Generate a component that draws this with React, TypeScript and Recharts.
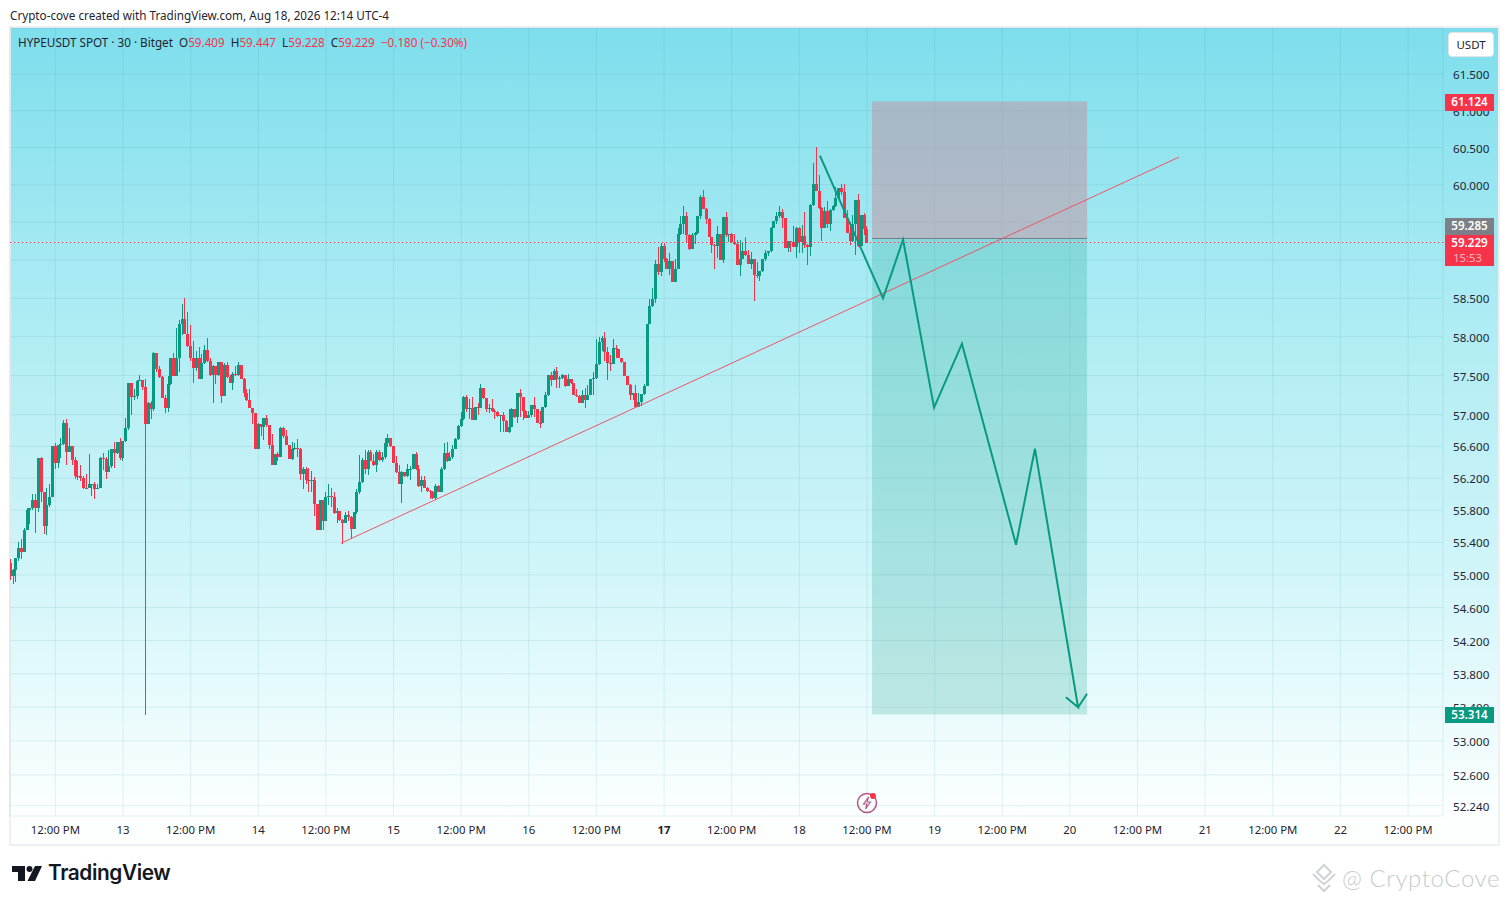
import { ComposedChart, Bar, Line, XAxis, YAxis, CartesianGrid, ReferenceArea, ReferenceLine } from 'recharts'

const UP = '#089981'
const DOWN = '#f7334a'
const FONT = '"Noto Sans", sans-serif'

const firstOpen = 55.15

const closes = [
  54.98, 55.06, 55.21, 55.33, 55.28, 55.55, 55.80, 55.82, 55.92, 55.82,
  56.45, 56.02, 55.60, 55.86, 55.96, 56.60, 56.39, 56.61, 56.63, 56.89,
  56.53, 56.60, 56.43, 56.23, 56.22, 56.20, 56.08, 56.07, 56.12, 56.13,
  56.06, 56.08, 56.45, 56.44, 56.27, 56.35, 56.57, 56.52, 56.65, 56.45,
  56.67, 56.83, 57.40, 57.23, 57.24, 57.43, 57.44, 57.35, 56.88, 57.15,
  57.07, 57.79, 57.59, 57.48, 57.21, 57.08, 57.39, 57.72, 57.49, 57.72,
  58.16, 58.23, 58.03, 57.88, 57.72, 57.60, 57.72, 57.46, 57.66, 57.83,
  57.69, 57.51, 57.62, 57.51, 57.67, 57.24, 57.63, 57.48, 57.40, 57.52,
  57.51, 57.64, 57.45, 57.28, 57.19, 57.09, 57.02, 56.57, 56.88, 56.85,
  56.96, 56.87, 56.62, 56.37, 56.50, 56.47, 56.83, 56.73, 56.61, 56.44,
  56.57, 56.58, 56.57, 56.25, 56.32, 56.18, 56.16, 56.18, 55.88, 55.55,
  55.93, 55.67, 55.96, 55.97, 55.96, 55.77, 55.79, 55.68, 55.64, 55.74,
  55.72, 55.56, 55.78, 56.02, 56.15, 56.43, 56.32, 56.53, 56.42, 56.36,
  56.53, 56.43, 56.46, 56.64, 56.71, 56.60, 56.39, 56.28, 56.12, 56.28,
  56.22, 56.31, 56.32, 56.50, 56.31, 56.10, 56.18, 56.08, 56.04, 56.03,
  55.95, 56.10, 56.02, 56.32, 56.52, 56.42, 56.47, 56.57, 56.69, 56.86,
  56.94, 57.22, 57.07, 57.08, 56.93, 57.10, 57.09, 57.34, 57.21, 57.07,
  57.09, 57.05, 57.03, 56.98, 56.99, 56.92, 56.78, 56.84, 57.07, 56.97,
  57.28, 57.22, 57.05, 56.96, 56.99, 57.12, 57.07, 56.90, 56.89, 57.10,
  57.25, 57.51, 57.44, 57.56, 57.45, 57.47, 57.51, 57.36, 57.46, 57.41,
  57.25, 57.24, 57.15, 57.25, 57.19, 57.25, 57.46, 57.47, 57.65, 57.93,
  57.98, 57.80, 57.66, 57.65, 57.85, 57.84, 57.72, 57.67, 57.50, 57.38,
  57.25, 57.28, 57.10, 57.16, 57.26, 57.37, 58.17, 58.40, 58.49, 58.95,
  58.84, 59.19, 59.02, 58.88, 58.99, 58.71, 58.88, 59.34, 59.48, 59.58,
  59.33, 59.14, 59.33, 59.36, 59.58, 59.84, 59.67, 59.54, 59.30, 59.20,
  59.19, 59.34, 59.00, 59.57, 59.33, 59.34, 59.24, 59.21, 58.94, 59.02,
  59.12, 59.07, 58.95, 59.01, 58.80, 58.79, 58.85, 59.01, 59.09, 59.12,
  59.43, 59.51, 59.58, 59.64, 59.55, 59.16, 59.25, 59.24, 59.17, 59.43,
  59.24, 59.32, 59.20, 59.17, 59.73, 60.01, 59.91, 59.69, 59.42, 59.65,
  59.47, 59.66, 59.71, 59.82, 59.95, 59.90, 59.55, 59.36, 59.25, 59.48,
  59.79, 59.18, 59.59, 59.41, 59.23,
]

const highs = [
  55.20, 55.07, 55.21, 55.40, 55.44, 55.58, 55.82, 55.82, 56.00, 56.00,
  56.45, 56.47, 56.03, 56.07, 56.13, 56.60, 56.64, 56.62, 56.70, 56.93,
  56.94, 56.83, 56.60, 56.47, 56.42, 56.36, 56.23, 56.25, 56.50, 56.13,
  56.15, 56.13, 56.47, 56.52, 56.46, 56.55, 56.57, 56.66, 56.66, 56.70,
  56.67, 56.96, 57.41, 57.40, 57.33, 57.44, 57.51, 57.44, 57.46, 57.16,
  57.17, 57.80, 57.79, 57.62, 57.50, 57.25, 57.49, 57.72, 57.79, 58.11,
  58.22, 58.43, 58.50, 58.32, 58.15, 57.95, 57.81, 57.87, 57.78, 57.89,
  57.98, 57.72, 57.63, 57.62, 57.67, 57.67, 57.66, 57.67, 57.51, 57.54,
  57.62, 57.67, 57.64, 57.47, 57.33, 57.33, 57.09, 57.02, 56.90, 56.88,
  56.96, 56.99, 56.87, 56.75, 56.50, 56.53, 56.84, 56.84, 56.80, 56.62,
  56.66, 56.64, 56.69, 56.58, 56.34, 56.34, 56.33, 56.29, 56.21, 55.88,
  55.93, 55.93, 56.02, 56.13, 56.08, 56.02, 55.83, 55.79, 55.69, 55.78,
  55.79, 55.73, 55.78, 56.06, 56.49, 56.45, 56.55, 56.55, 56.55, 56.50,
  56.55, 56.55, 56.53, 56.70, 56.75, 56.71, 56.60, 56.48, 56.36, 56.29,
  56.28, 56.38, 56.35, 56.50, 56.53, 56.37, 56.22, 56.23, 56.09, 56.05,
  56.04, 56.12, 56.11, 56.34, 56.64, 56.65, 56.53, 56.61, 56.71, 56.87,
  57.04, 57.24, 57.25, 57.20, 57.22, 57.10, 57.15, 57.39, 57.34, 57.21,
  57.13, 57.20, 57.07, 57.05, 56.99, 57.03, 56.93, 57.07, 57.09, 57.07,
  57.28, 57.33, 57.23, 57.06, 57.05, 57.12, 57.23, 57.07, 57.05, 57.10,
  57.29, 57.51, 57.54, 57.58, 57.61, 57.50, 57.52, 57.51, 57.52, 57.46,
  57.41, 57.33, 57.25, 57.31, 57.34, 57.38, 57.46, 57.55, 57.97, 58.00,
  58.01, 58.06, 57.87, 57.76, 57.97, 57.89, 57.84, 57.72, 57.68, 57.50,
  57.39, 57.28, 57.38, 57.28, 57.26, 57.39, 58.17, 58.49, 58.63, 59.00,
  59.17, 59.22, 59.22, 59.03, 59.09, 58.99, 59.02, 59.43, 59.58, 59.72,
  59.63, 59.34, 59.36, 59.37, 59.58, 59.86, 59.93, 59.69, 59.55, 59.31,
  59.21, 59.45, 59.34, 59.57, 59.64, 59.35, 59.36, 59.35, 59.26, 59.26,
  59.23, 59.31, 59.13, 59.10, 59.02, 58.97, 58.85, 59.01, 59.13, 59.12,
  59.44, 59.51, 59.64, 59.71, 59.67, 59.56, 59.25, 59.25, 59.45, 59.44,
  59.44, 59.46, 59.63, 59.21, 59.74, 60.29, 60.50, 60.13, 59.70, 59.70,
  59.78, 59.68, 59.73, 59.97, 59.96, 60.01, 60.01, 59.66, 59.50, 59.59,
  59.79, 59.87, 59.60, 59.62, 59.45,
]

const lows = [
  54.94, 54.89, 54.91, 55.17, 55.20, 55.28, 55.55, 55.63, 55.80, 55.52,
  55.78, 55.90, 55.50, 55.49, 55.84, 55.96, 56.31, 56.33, 56.45, 56.61,
  56.36, 56.53, 56.36, 56.19, 56.17, 56.16, 56.06, 56.06, 56.07, 55.97,
  55.94, 56.06, 56.07, 56.30, 56.19, 56.27, 56.33, 56.33, 56.50, 56.43,
  56.42, 56.66, 56.81, 56.99, 57.19, 57.20, 57.43, 57.31, 53.31, 56.88,
  56.94, 57.05, 57.54, 57.47, 57.21, 57.02, 57.04, 57.38, 57.49, 57.49,
  57.54, 58.02, 58.03, 57.87, 57.69, 57.41, 57.56, 57.45, 57.46, 57.65,
  57.67, 57.50, 57.15, 57.39, 57.49, 57.15, 57.24, 57.47, 57.40, 57.32,
  57.50, 57.50, 57.45, 57.22, 57.18, 57.08, 56.88, 56.57, 56.57, 56.73,
  56.68, 56.85, 56.57, 56.37, 56.37, 56.41, 56.47, 56.71, 56.61, 56.44,
  56.43, 56.55, 56.47, 56.17, 56.06, 56.13, 56.03, 56.03, 55.73, 55.55,
  55.55, 55.55, 55.67, 55.86, 55.84, 55.75, 55.64, 55.67, 55.38, 55.64,
  55.67, 55.44, 55.56, 55.75, 56.00, 56.14, 56.25, 56.24, 56.42, 56.35,
  56.28, 56.41, 56.40, 56.44, 56.59, 56.59, 56.39, 56.26, 56.12, 55.89,
  56.21, 56.21, 56.17, 56.31, 56.30, 56.09, 56.02, 56.07, 56.03, 55.94,
  55.94, 55.93, 56.02, 56.02, 56.30, 56.40, 56.42, 56.44, 56.56, 56.68,
  56.84, 56.93, 57.03, 56.94, 56.93, 56.93, 57.00, 57.08, 57.20, 57.03,
  57.02, 57.03, 56.95, 56.97, 56.78, 56.78, 56.78, 56.77, 56.84, 56.96,
  56.90, 56.97, 56.93, 56.96, 56.96, 56.97, 56.97, 56.90, 56.83, 56.89,
  57.09, 57.24, 57.37, 57.44, 57.34, 57.34, 57.46, 57.35, 57.36, 57.39,
  57.25, 57.23, 57.15, 57.15, 57.09, 57.19, 57.25, 57.25, 57.46, 57.64,
  57.81, 57.69, 57.44, 57.56, 57.65, 57.72, 57.72, 57.66, 57.49, 57.38,
  57.19, 57.19, 57.10, 57.10, 57.11, 57.25, 57.36, 58.16, 58.38, 58.44,
  58.80, 58.79, 58.98, 58.88, 58.81, 58.71, 58.71, 58.88, 59.33, 59.35,
  59.23, 59.13, 59.14, 59.21, 59.35, 59.54, 59.67, 59.48, 59.30, 59.09,
  58.88, 59.03, 59.00, 58.96, 59.31, 59.24, 59.23, 59.20, 58.94, 58.79,
  59.01, 59.06, 58.95, 58.88, 58.47, 58.76, 58.73, 58.84, 58.99, 59.06,
  59.10, 59.42, 59.48, 59.55, 59.42, 59.16, 59.11, 59.10, 59.17, 59.03,
  59.09, 59.09, 59.16, 58.93, 59.06, 59.72, 59.91, 59.68, 59.25, 59.42,
  59.42, 59.39, 59.65, 59.70, 59.81, 59.86, 59.55, 59.36, 59.20, 59.24,
  59.07, 59.17, 59.18, 59.33, 59.23,
]

const priceTicks = [
  61.5, 61, 60.5, 60, 59.5, 59, 58.5, 58, 57.5, 57, 56.6, 56.2, 55.8, 55.4, 55, 54.6, 54.2, 53.8, 53.4, 53, 52.6, 52.24,
]

const timeTicks = [
  16, 40, 64, 88, 112, 136, 160, 184, 208, 232, 256, 280, 304, 328, 352, 376, 400, 424, 448, 472, 496,
]
const timeLabels = [
  '12:00 PM', '13', '12:00 PM', '14', '12:00 PM', '15', '12:00 PM', '16', '12:00 PM', '17', '12:00 PM', '18',
  '12:00 PM', '19', '12:00 PM', '20', '12:00 PM', '21', '12:00 PM', '22', '12:00 PM',
]

// hand drawn projection and the rising trend line
const projection = [
  { i: 287.3, p: 60.39 },
  { i: 309.7, p: 58.5 },
  { i: 316.8, p: 59.27 },
  { i: 327.8, p: 57.09 },
  { i: 337.7, p: 57.91 },
  { i: 356.9, p: 55.37 },
  { i: 363.6, p: 56.57 },
  { i: 378.9, p: 53.4 },
  { i: 374.6, p: 53.52 },
  { i: 378.9, p: 53.4 },
  { i: 382.1, p: 53.56 },
]
const trend = [
  { x: 117.4, y: 55.39 },
  { x: 414.7, y: 60.37 },
]

const stopPrice = 61.124
const entryPrice = 59.285
const targetPrice = 53.314
const lastPrice = 59.229
const positionFrom = 305.8
const positionTo = 382.1

const rows = closes.map((close, i) => ({
  i,
  open: i === 0 ? firstOpen : closes[i - 1],
  high: highs[i],
  low: lows[i],
  close,
}))

function Candle({ x, y, width, height, payload }: any) {
  const { open, high, low, close } = payload
  const span = Math.log(high) - Math.log(low)
  const py = (v: number) => y + (height * (Math.log(high) - Math.log(v))) / span
  const color = close >= open ? UP : DOWN
  const cx = Math.floor(x + width / 2)
  const top = py(Math.max(open, close))
  const bottom = py(Math.min(open, close))
  return (
    <g shapeRendering="crispEdges">
      <rect x={cx} y={y} width={1} height={Math.max(height, 1)} fill={color} />
      <rect x={cx - 1} y={top} width={3} height={Math.max(bottom - top, 1)} fill={color} />
    </g>
  )
}

function TimeTick({ x, y, payload }: any) {
  const label = timeLabels[timeTicks.indexOf(payload.value)]
  return (
    <text x={x} y={y + 16} textAnchor="middle" fontSize={11.4} fontFamily={FONT} fill="#1f2430" fontWeight={label === '17' ? 700 : 400}>
      {label}
    </text>
  )
}

// price tags sit in html so they cover the axis labels behind them
function PriceTag({ top, height, fill, text, sub }: any) {
  return (
    <div
      style={{
        position: 'absolute',
        left: 1445,
        top,
        width: 49,
        height,
        background: fill,
        color: '#fff',
        fontSize: 11.6,
        fontWeight: 600,
        lineHeight: '16px',
        textAlign: 'center',
      }}
    >
      {text}
      {sub && <div style={{ fontSize: 11.2, fontWeight: 400, lineHeight: '13px', color: '#fbb6bf', marginLeft: -4 }}>{sub}</div>}
    </div>
  )
}

export default function App() {
  return (
    <div style={{ position: 'absolute', left: 0, top: 0, width: 1508, height: 904, background: '#fff', overflow: 'hidden', fontFamily: FONT }}>
      <div style={{ position: 'absolute', left: 10, top: 7, fontSize: 11.7, color: '#1f2430' }}>
        Crypto-cove created with TradingView.com, Aug 18, 2026 12:14 UTC-4
      </div>
      <div
        style={{
          position: 'absolute',
          left: 9,
          top: 26,
          width: 1487,
          height: 816,
          border: '2px solid #eef1f3',
          boxSizing: 'content-box',
          background: 'linear-gradient(180deg, #7edeec 0%, #abebf3 33%, #d0f5f9 66%, #fdffff 97%)',
        }}
      />
      <div style={{ position: 'absolute', left: 0, top: 0 }}>
        <ComposedChart width={1508} height={904} data={rows} margin={{ top: 28, right: 0, bottom: 60, left: 10 }}>
          <CartesianGrid stroke="#2f7f86" strokeOpacity={0.11} />
          <XAxis
            dataKey="i"
            type="number"
            domain={[-0.1, 508.4]}
            allowDataOverflow
            ticks={timeTicks}
            interval={0}
            height={28}
            tickSize={0}
            axisLine={false}
            tickLine={false}
            tick={<TimeTick />}
          />
          <YAxis
            orientation="right"
            scale="log"
            domain={[52.12, 62.134]}
            allowDataOverflow
            ticks={priceTicks}
            interval={0}
            width={65}
            tickSize={0}
            tickMargin={10}
            axisLine={false}
            tickLine={false}
            tick={{ fontSize: 11.6, fontFamily: FONT, fill: '#1f2430', dy: 1 }}
            tickFormatter={(v: number) => v.toFixed(3)}
          />
          <ReferenceArea x1={positionFrom} x2={positionTo} y1={entryPrice} y2={stopPrice} fill="#c48f9e" fillOpacity={0.5} stroke="none" />
          <ReferenceArea x1={positionFrom} x2={positionTo} y1={targetPrice} y2={entryPrice} fill="#089981" fillOpacity={0.2} stroke="none" />
          <ReferenceLine
            segment={[
              { x: positionFrom, y: entryPrice },
              { x: positionTo, y: entryPrice },
            ]}
            stroke="#787b86"
          />
          <ReferenceLine y={lastPrice} stroke={DOWN} strokeDasharray="1 3" shapeRendering="crispEdges" />
          <Bar dataKey={(r: any) => [r.low, r.high]} barSize={3} shape={<Candle />} isAnimationActive={false} />
          <ReferenceLine segment={trend} stroke="#ee5566" strokeWidth={1} />
          <Line data={projection} dataKey="p" stroke={UP} strokeWidth={2} dot={false} type="linear" isAnimationActive={false} />
        </ComposedChart>
      </div>

      <PriceTag top={94} height={17} fill={DOWN} text="61.124" />
      <PriceTag top={218} height={17} fill="#7d7f86" text="59.285" />
      <PriceTag top={235} height={31} fill={DOWN} text="59.229" sub="15:53" />
      <PriceTag top={707} height={16} fill={UP} text="53.314" />

      <div style={{ position: 'absolute', left: 18, top: 34, fontSize: 11.7, color: '#1f2430', whiteSpace: 'pre' }}>
        HYPEUSDT SPOT · 30 · Bitget{'  '}O<span style={{ color: DOWN }}>59.409</span>{'  '}H<span style={{ color: DOWN }}>59.447</span>
        {'  '}L<span style={{ color: DOWN }}>59.228</span>{'  '}C<span style={{ color: DOWN }}>59.229</span>
        <span style={{ color: DOWN }}>{'  '}−0.180 (−0.30%)</span>
      </div>

      <div
        style={{
          position: 'absolute',
          left: 1448,
          top: 32,
          width: 46,
          height: 25,
          background: '#fff',
          borderRadius: 4,
          border: '1px solid #e0e3e8',
          boxSizing: 'border-box',
          fontSize: 11.5,
          lineHeight: '24px',
          textAlign: 'center',
          color: '#1f2430',
        }}
      >
        USDT
      </div>

      <svg style={{ position: 'absolute', left: 855, top: 791 }} width={26} height={24}>
        <circle cx={12} cy={12} r={9.5} fill="none" stroke="#b0568c" strokeWidth={1.5} />
        <path d="M13.5 6 L8.5 13 L12 13 L10.5 18 L15.5 11 L12 11 Z" fill="none" stroke="#b0568c" strokeWidth={1.1} />
        <circle cx={18} cy={5} r={3} fill="#f7334a" />
      </svg>

      <svg style={{ position: 'absolute', left: 10, top: 862 }} width={34} height={22}>
        <path d="M2 4 H15 V19 H8 V10 H2 Z" fill="#131722" />
        <circle cx={19.5} cy={7} r={3} fill="#131722" />
        <path d="M25 4 H32 L25 19 H17.5 Z" fill="#131722" />
      </svg>
      <div style={{ position: 'absolute', left: 48, top: 860, fontSize: 20.8, fontWeight: 600, fontFamily: 'Inter, sans-serif', color: '#131722', letterSpacing: -0.4 }}>
        TradingView
      </div>

      <svg style={{ position: 'absolute', left: 1308, top: 862 }} width={32} height={34}>
        <g fill="none" stroke="#cfd2d6" strokeWidth={2}>
          <path d="M16 3 L23 10 L16 17 L9 10 Z" />
          <path d="M5 12 L12 19 L16 22 L20 19 L27 12" />
          <path d="M10 23 L16 29 L22 23" />
        </g>
      </svg>
      <div style={{ position: 'absolute', left: 1342, top: 863, fontSize: 24, fontFamily: 'Lato, sans-serif', fontWeight: 300, color: '#c7cace', letterSpacing: 0.6, whiteSpace: 'pre' }}>
        @ CryptoCove
      </div>
    </div>
  )
}
